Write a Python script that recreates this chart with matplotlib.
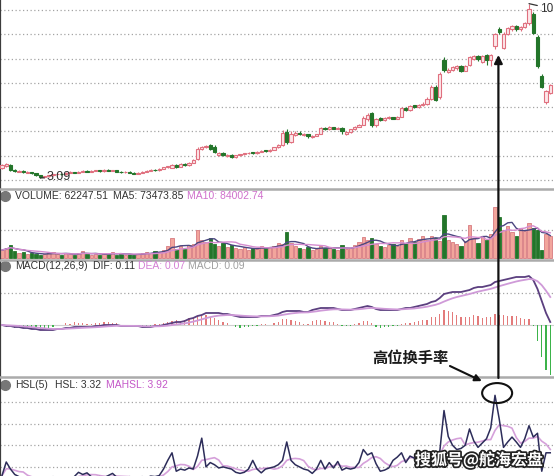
import numpy as np
import pandas as pd
import matplotlib
matplotlib.use("Agg")
from matplotlib import pyplot as plt
from matplotlib.patches import Ellipse, ConnectionPatch
import matplotlib.patheffects as pe

plt.rcParams['font.family'] = ['Liberation Sans', 'DejaVu Sans']

# daily candles
opens = [3.50, 3.58, 3.62, 3.42, 3.35, 3.38, 3.30, 3.33, 3.28, 3.20,
         3.12, 3.15, 3.20, 3.24, 3.27, 3.24, 3.30, 3.33, 3.30, 3.35,
         3.38, 3.34, 3.38, 3.40, 3.36, 3.42, 3.38, 3.40, 3.35, 3.32,
         3.35, 3.30, 3.27, 3.30, 3.34, 3.38, 3.42, 3.40, 3.46, 3.52,
         3.50, 3.62, 3.55, 3.66, 3.62, 3.72, 3.85, 4.28, 4.35, 4.45,
         4.38, 4.05, 4.12, 3.98, 4.05, 3.95, 4.02, 4.06, 4.10, 4.14,
         4.10, 4.16, 4.22, 4.18, 4.25, 4.35, 4.45, 4.98, 4.55, 4.85,
         4.95, 4.85, 4.88, 4.78, 4.83, 4.90, 5.15, 5.10, 5.18, 5.12,
         5.16, 4.90, 4.98, 5.10, 5.20, 5.28, 5.50, 5.75, 5.25, 5.55,
         5.48, 5.55, 5.58, 5.52, 5.60, 5.95, 5.88, 6.08, 6.00, 6.10,
         6.12, 6.35, 6.85, 6.40, 7.95, 7.45, 7.55, 7.60, 7.70, 7.50,
         7.75, 8.00, 8.10, 7.85, 8.15, 7.95, 8.50, 9.20, 8.45, 9.00,
         9.20, 9.35, 9.20, 9.30, 9.45, 9.85, 8.90, 7.30, 6.20, 6.60]
closes = [3.62, 3.65, 3.42, 3.38, 3.38, 3.32, 3.33, 3.28, 3.22, 3.12,
          3.15, 3.20, 3.24, 3.27, 3.24, 3.30, 3.33, 3.30, 3.35, 3.38,
          3.34, 3.38, 3.40, 3.36, 3.42, 3.38, 3.40, 3.35, 3.32, 3.35,
          3.30, 3.27, 3.30, 3.34, 3.38, 3.42, 3.40, 3.46, 3.52, 3.58,
          3.62, 3.55, 3.66, 3.62, 3.72, 3.82, 4.28, 4.38, 4.40, 4.30,
          4.15, 4.12, 4.02, 4.05, 3.95, 4.02, 4.06, 4.10, 4.12, 4.10,
          4.16, 4.20, 4.18, 4.25, 4.35, 4.45, 4.95, 4.55, 4.90, 4.95,
          4.88, 4.90, 4.80, 4.83, 4.88, 5.15, 5.10, 5.18, 5.12, 5.16,
          5.00, 4.98, 5.10, 5.20, 5.28, 5.55, 5.68, 5.25, 5.50, 5.48,
          5.55, 5.58, 5.52, 5.60, 5.95, 5.88, 6.05, 6.00, 6.10, 6.15,
          6.35, 6.85, 6.30, 7.35, 7.55, 7.55, 7.65, 7.70, 7.50, 7.70,
          8.05, 8.10, 8.00, 8.10, 7.95, 8.15, 9.00, 9.10, 9.00, 9.25,
          9.35, 9.20, 9.30, 9.45, 10.05, 9.05, 7.70, 6.85, 6.65, 6.90]
highs = [3.68, 3.72, 3.68, 3.45, 3.42, 3.40, 3.36, 3.35, 3.30, 3.22,
         3.18, 3.22, 3.26, 3.29, 3.29, 3.32, 3.36, 3.35, 3.37, 3.40,
         3.40, 3.40, 3.43, 3.42, 3.45, 3.44, 3.43, 3.42, 3.37, 3.38,
         3.36, 3.32, 3.33, 3.36, 3.40, 3.45, 3.44, 3.48, 3.55, 3.60,
         3.66, 3.65, 3.70, 3.70, 3.75, 3.86, 4.36, 4.42, 4.45, 4.50,
         4.45, 4.15, 4.15, 4.08, 4.08, 4.05, 4.08, 4.12, 4.15, 4.16,
         4.18, 4.22, 4.25, 4.28, 4.38, 4.50, 5.05, 5.12, 5.00, 5.00,
         5.00, 4.95, 4.90, 4.86, 4.90, 5.20, 5.18, 5.22, 5.20, 5.20,
         5.20, 5.00, 5.12, 5.22, 5.30, 5.62, 5.75, 5.80, 5.55, 5.60,
         5.60, 5.62, 5.60, 5.65, 6.00, 6.00, 6.10, 6.10, 6.15, 6.20,
         6.40, 6.90, 6.90, 7.45, 8.05, 7.60, 7.70, 7.75, 7.72, 7.75,
         8.10, 8.15, 8.15, 8.15, 8.20, 8.20, 9.05, 9.30, 9.10, 9.30,
         9.40, 9.40, 9.35, 9.50, 10.26, 9.90, 8.95, 7.35, 6.70, 6.95]
lows = [3.45, 3.55, 3.38, 3.33, 3.32, 3.30, 3.28, 3.25, 3.18, 3.09,
        3.10, 3.13, 3.18, 3.22, 3.22, 3.22, 3.28, 3.28, 3.28, 3.33,
        3.32, 3.32, 3.36, 3.34, 3.35, 3.36, 3.36, 3.33, 3.30, 3.30,
        3.28, 3.25, 3.25, 3.28, 3.32, 3.36, 3.37, 3.38, 3.44, 3.50,
        3.48, 3.50, 3.53, 3.60, 3.60, 3.70, 3.82, 4.25, 4.32, 4.25,
        4.12, 4.00, 3.98, 3.95, 3.90, 3.92, 4.00, 4.04, 4.08, 4.08,
        4.08, 4.14, 4.15, 4.16, 4.22, 4.32, 4.40, 4.50, 4.52, 4.80,
        4.85, 4.80, 4.75, 4.75, 4.80, 4.88, 5.05, 5.08, 5.10, 5.10,
        4.90, 4.85, 4.95, 5.08, 5.18, 5.25, 5.45, 5.20, 5.20, 5.45,
        5.45, 5.52, 5.50, 5.50, 5.58, 5.85, 5.85, 5.95, 5.98, 6.05,
        6.10, 6.30, 6.25, 6.35, 7.45, 7.40, 7.50, 7.55, 7.45, 7.48,
        7.70, 7.95, 7.90, 7.80, 7.75, 7.70, 8.40, 9.00, 8.40, 8.95,
        9.15, 9.15, 9.15, 9.25, 9.40, 9.00, 7.60, 6.80, 6.15, 6.55]
volume = [8, 10, 13, 7, 5, 6, 4, 5, 4, 3,
          4, 5, 6, 4, 3, 5, 4, 3, 5, 7,
          4, 3, 4, 3, 5, 4, 6, 3, 4, 3,
          4, 3, 4, 5, 6, 5, 7, 6, 8, 12,
          20, 9, 12, 9, 13, 14, 28, 18, 16, 20,
          14, 12, 15, 11, 13, 10, 9, 11, 8, 10,
          9, 12, 10, 11, 12, 15, 14, 26, 15, 12,
          10, 9, 11, 8, 9, 12, 10, 11, 9, 8,
          13, 9, 10, 13, 16, 21, 18, 20, 14, 12,
          11, 13, 14, 12, 18, 15, 20, 16, 19, 22,
          18, 22, 20, 17, 43, 18, 16, 14, 12, 17,
          33, 20, 15, 22, 18, 24, 51, 41, 28, 32,
          26, 22, 30, 27, 35, 30, 28, 8, 24, 22]
dif = [0.00, -0.01, -0.01, -0.02, -0.02,
       -0.03, -0.03, -0.04, -0.04, -0.05, -0.05, -0.05, -0.05,
       -0.04, -0.04, -0.03, -0.03,
       -0.02, -0.02, -0.02, -0.02, -0.02, -0.01, -0.01,
       0.00, 0.00, 0.00, 0.00, -0.01, -0.01, -0.01, -0.01,
       -0.01, -0.02, -0.02, -0.02, -0.01, -0.01,
       0.00, 0.01, 0.02, 0.03, 0.03, 0.04,
       0.06, 0.07, 0.09, 0.10,
       0.12, 0.12, 0.12, 0.12, 0.11, 0.11,
       0.10, 0.09,
       0.08, 0.08, 0.08, 0.08, 0.08,
       0.09, 0.09, 0.09, 0.10, 0.11,
       0.13, 0.14, 0.14, 0.14, 0.14, 0.13, 0.13,
       0.15, 0.16, 0.17, 0.17, 0.17, 0.17, 0.16,
       0.15, 0.15, 0.15, 0.16, 0.17,
       0.18, 0.19, 0.18,
       0.16, 0.15, 0.15, 0.15, 0.15, 0.15, 0.16,
       0.17, 0.17, 0.18, 0.19,
       0.20, 0.21, 0.23, 0.24,
       0.27, 0.31, 0.32, 0.33,
       0.33, 0.33, 0.34, 0.35,
       0.37, 0.38, 0.38, 0.39, 0.40,
       0.43, 0.44, 0.45, 0.46,
       0.47, 0.48, 0.48, 0.48, 0.49,
       0.45, 0.36, 0.24, 0.12, 0.03]
hsl = [1.2, 2.45, 1.8, 1.3, 1.1,
       1.0, 0.95, 1.05, 0.9, 1.0, 1.05, 0.95, 1.1, 1.0, 0.9, 1.05, 1.0, 1.1,
       1.5, 1.3, 1.45, 1.1, 1.05, 1.1, 1.0, 1.2, 1.4,
       1.05, 1.0, 0.95, 1.1, 1.0, 1.05, 1.1, 1.0, 1.15, 1.1, 1.2,
       1.8, 2.6, 3.3, 1.6, 1.8, 1.7, 1.9, 1.8, 3.0, 4.65,
       2.0, 2.4, 2.2, 1.9, 2.0, 1.9, 1.8, 1.5, 1.4, 1.5,
       1.8, 2.6, 1.8, 1.45, 1.8, 1.9, 2.0, 2.2, 2.6, 4.3,
       2.6, 2.2, 2.0, 1.8, 1.7, 1.4, 1.8, 2.6, 1.8, 2.4,
       1.9, 2.5, 1.7, 1.9, 1.8, 1.9, 2.4, 3.6, 3.1, 3.3,
       2.3, 1.6, 1.7, 1.9, 2.6, 2.9, 3.3, 2.4, 3.0, 2.8,
       3.1, 3.2, 2.9, 3.1, 3.0, 3.4, 7.2, 4.8, 4.0, 3.6,
       3.7, 4.0, 5.5, 4.4, 3.8, 4.2, 4.6, 5.6, 8.6, 6.4,
       3.8, 4.3, 4.75, 4.3, 3.8, 4.6, 5.8, 4.75, 5.1, 1.6,
       3.3, 3.3]

W, H = 554, 476
fig = plt.figure(figsize=(W / 100, H / 100), dpi=100)
fig.patch.set_facecolor('white')


def panel(top, bottom):
    return fig.add_axes([0, 1 - bottom / H, 1, (bottom - top) / H])


ax_p = panel(0, 189)
ax_v = panel(189, 260)
ax_m = panel(260, 377)
ax_h = panel(377, 476)

grid_kw = dict(axis='y', linestyle=(0, (1, 2)), color='#a4a4a4', linewidth=0.9)
for ax in (ax_p, ax_v, ax_m, ax_h):
    ax.set_xlim(-0.47, 129.88)
    ax.set_xticks([])
    ax.tick_params(left=False, labelleft=False, length=0)
    ax.spines['right'].set_visible(False)
    ax.spines['bottom'].set_visible(False)
    ax.spines['left'].set_color('#3c3c3c')
    ax.spines['left'].set_linewidth(1.6)
    ax.spines['top'].set_color('#ababab')
    ax.spines['top'].set_linewidth(1.8)
    ax.set_facecolor('none')
    ax.grid(**grid_kw)
    ax.set_axisbelow(True)
ax_p.spines['top'].set_visible(False)

idx = np.arange(len(closes))
o = np.array(opens)
c = np.array(closes)
up = c >= o
UP_EDGE, UP_FACE, DN = '#e0707f', '#fde8ea', '#23752a'

# price panel
ax_p.set_ylim(2.634, 10.41)
ax_p.set_yticks(range(3, 11))
ax_p.vlines(idx, lows, highs, colors=np.where(up, UP_EDGE, DN), linewidth=0.8, zorder=2)
body = np.maximum(np.abs(c - o), 0.025)
ax_p.bar(idx, body, bottom=np.minimum(o, c), width=0.72,
         color=np.where(up, UP_FACE, DN), edgecolor=np.where(up, UP_EDGE, DN),
         linewidth=0.8, zorder=3)
ax_p.annotate('3.09', xy=(9, 3.09), xytext=(10.6, 3.11), fontsize=9, color='#333333',
              va='center', arrowprops=dict(arrowstyle='-', color='#333333', lw=0.9,
                                           shrinkA=0, shrinkB=0))
ax_p.annotate('10.26', xy=(124, 10.26), xytext=(126.6, 10.02), fontsize=8.5,
              color='#333333', va='center',
              arrowprops=dict(arrowstyle='-', color='#333333', lw=0.9, shrinkA=0, shrinkB=0))

# volume panel
vol = pd.Series(volume, dtype=float)
ax_v.set_ylim(-2, 69)
ax_v.set_yticks([28])
ax_v.bar(idx, vol, width=0.72, color=np.where(up, '#f2a59c', DN),
         edgecolor=np.where(up, '#d77a80', DN), linewidth=0.6, zorder=2)
ax_v.plot(idx, vol.rolling(5, min_periods=1).mean(), color='#4b4680', lw=1.0, zorder=3)
ax_v.plot(idx, vol.rolling(10, min_periods=1).mean(), color='#d58ccf', lw=1.0, zorder=3)

# MACD panel
d = pd.Series(dif)
dea = d.ewm(span=9, adjust=False).mean()
hist = 2 * (d - dea)
ax_m.set_ylim(-0.52, 0.65)
ax_m.set_yticks([0.32])
ax_m.axhline(0, color='#d0d0d0', lw=0.8, zorder=1)
ax_m.bar(idx, hist, width=0.28, color=np.where(hist >= 0, '#e37b7b', '#3cb34a'), zorder=2)
ax_m.plot(idx, d, color='#5b3f7f', lw=1.3, zorder=3)
ax_m.plot(idx, dea, color='#cf9ad8', lw=1.3, zorder=3)

# HSL panel
h = pd.Series(hsl)
ax_h.set_ylim(1.16, 10.29)
ax_h.set_yticks([2, 4, 6, 8])
ax_h.plot(idx, h, color='#2d2d5a', lw=1.1, zorder=3)
ax_h.plot(idx, h.rolling(5, min_periods=1).mean(), color='#d5a0da', lw=1.2, zorder=2)


def header(ax, yfrac, parts):
    ax.plot([5 / W], [yfrac], marker='o', ms=7, color='#777777',
            transform=ax.transAxes, clip_on=False)
    for xpx, txt, col in parts:
        ax.text(xpx / W, yfrac, txt, transform=ax.transAxes, fontsize=7.5,
                color=col, va='center', ha='left')


header(ax_v, 0.90, [(15, 'VOLUME: 62247.51', '#333333'),
                    (113, 'MA5: 73473.85', '#333333'),
                    (187, 'MA10: 84002.74', '#d070cc')])
header(ax_m, 0.95, [(15, 'MACD(12,26,9)', '#333333'),
                    (93, 'DIF: 0.11', '#333333'),
                    (138, 'DEA: 0.07', '#d47fd4'),
                    (188, 'MACD: 0.09', '#a0a0a0')])
header(ax_h, 0.92, [(15, 'HSL(5)', '#333333'),
                    (55, 'HSL: 3.32', '#333333'),
                    (106, 'MAHSL: 3.92', '#c458c8')])

# annotations
cjk = ['Noto Sans CJK SC', 'DejaVu Sans']
ax_m.text(96, -0.33, '高位换手率', family=cjk, fontsize=11, fontweight='bold',
          color='#1a1a1a', ha='center', va='center')
ax_h.add_patch(Ellipse((116.5, 8.81), width=7.06, height=1.84, fill=False,
                       edgecolor='#111111', lw=1.5, clip_on=False, zorder=5))
vline = ConnectionPatch(xyA=(116.8, 10.2), coordsA=ax_h.transData,
                        xyB=(116.8, 8.15), coordsB=ax_p.transData,
                        arrowstyle='-|>', mutation_scale=12, lw=1.6, color='#111111')
fig.add_artist(vline)
pointer = ConnectionPatch(xyA=(105.4, -0.41), coordsA=ax_m.transData,
                          xyB=(112.9, 9.91), coordsB=ax_h.transData,
                          arrowstyle='-|>', mutation_scale=10, lw=1.5, color='#111111')
fig.add_artist(pointer)

fig.text(415 / W, 1 - 460 / H, '搜狐号@舵海宏盘', family=cjk, fontsize=11.5,
         fontweight='bold', color='white', va='center', ha='left',
         path_effects=[pe.withStroke(linewidth=2.5, foreground='#222222')])

fig.savefig('out.png', dpi=100)
